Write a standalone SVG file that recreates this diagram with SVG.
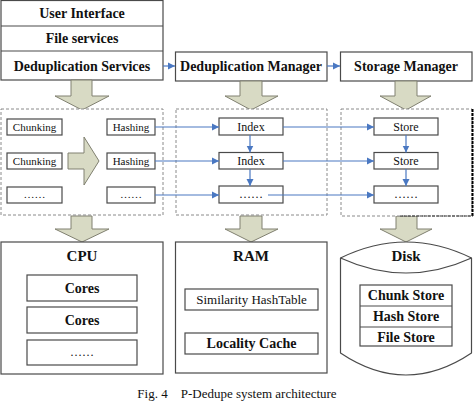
<svg xmlns="http://www.w3.org/2000/svg" width="474" height="402" viewBox="0 0 474 402">
<defs>
<style>
.box{fill:#fff;stroke:#4a4a4a;stroke-width:1.2}
.dash{fill:#fff;stroke:#8a8a8a;stroke-width:1;stroke-dasharray:3 2}
.blk{fill:#d8dac4;stroke:#808070;stroke-width:1}
.t{font-family:'Liberation Serif','Times New Roman','DejaVu Serif',serif;text-anchor:middle;fill:#111}
.b{font-weight:bold}
.con{stroke:#4a78c2;stroke-width:1.2;fill:none;marker-end:url(#ah)}
</style>
<marker id="ah" markerUnits="userSpaceOnUse" markerWidth="8" markerHeight="8" refX="7" refY="4" orient="auto">
<path d="M0,0.5 L7,4 L0,7.5 Z" fill="#4a78c2"/>
</marker>
</defs>
<rect width="474" height="402" fill="#fff"/>

<g id="services">
<rect class="box" x="1" y="0.5" width="162" height="79.5"/>
<line x1="1" y1="26" x2="163" y2="26" stroke="#4a4a4a" stroke-width="1.2"/>
<line x1="1" y1="51" x2="163" y2="51" stroke="#4a4a4a" stroke-width="1.2"/>
<text class="t b" x="82" y="18" font-size="14">User Interface</text>
<text class="t b" x="82" y="43" font-size="14">File services</text>
<text class="t b" x="82" y="71" font-size="14">Deduplication Services</text>
</g>
<g id="dedup-manager">
<rect class="box" x="175.5" y="52" width="151.5" height="29"/>
<text class="t b" x="251" y="71" font-size="14">Deduplication Manager</text>
</g>
<g id="storage-manager">
<rect class="box" x="340.5" y="52" width="131.5" height="29"/>
<text class="t b" x="406" y="71" font-size="14">Storage Manager</text>
</g>

<g id="block-arrows">
<polygon class="blk" points="71,80 92,80 92,96 109,96 82,110 55,96 71,96"/>
<polygon class="blk" points="240,81 262,81 262,96 278,96 251,110 225,96 240,96"/>
<polygon class="blk" points="395,81 417,81 417,96 431,96 406,110 380,96 395,96"/>
<polygon class="blk" points="71,216 92,216 92,229 109,229 82,242 55,229 71,229"/>
<polygon class="blk" points="240,216 262,216 262,229 278,229 251,242 225,229 240,229"/>
<polygon class="blk" points="396,216 417,216 417,229 432,229 406,242 380,229 396,229"/>
</g>

<g id="chunk-hash-panel">
<rect class="dash" x="1" y="109" width="162" height="106"/>
<rect class="box" x="7" y="119" width="55" height="16"/>
<text class="t" x="34.5" y="131" font-size="11">Chunking</text>
<rect class="box" x="7" y="153" width="55" height="16"/>
<text class="t" x="34.5" y="165" font-size="11">Chunking</text>
<rect class="box" x="7" y="187" width="55" height="16"/>
<text class="t" x="34.5" y="198" font-size="11">……</text>
<polygon class="blk" points="68,153 84,153 84,137 99,161 84,185 84,169 68,169"/>
<rect class="box" x="107" y="119" width="48" height="16"/>
<text class="t" x="131" y="131" font-size="11">Hashing</text>
<rect class="box" x="107" y="153" width="48" height="16"/>
<text class="t" x="131" y="165" font-size="11">Hashing</text>
<rect class="box" x="107" y="187" width="48" height="16"/>
<text class="t" x="131" y="198" font-size="11">……</text>
</g>

<g id="index-panel">
<rect class="dash" x="176" y="109" width="151" height="106"/>
<rect class="box" x="219" y="118" width="64" height="17"/>
<text class="t" x="251" y="131" font-size="12">Index</text>
<rect class="box" x="219" y="152.5" width="64" height="16.5"/>
<text class="t" x="251" y="165" font-size="12">Index</text>
<rect class="box" x="219" y="186" width="64" height="17"/>
<text class="t" x="251" y="198" font-size="12">……</text>
</g>

<g id="store-panel">
<rect class="dash" x="341" y="109" width="131" height="107"/>
<line x1="472.5" y1="109" x2="472.5" y2="216" stroke="#000" stroke-width="2" stroke-dasharray="3 1"/>
<line x1="400" y1="216" x2="473" y2="216" stroke="#333" stroke-width="1.2" stroke-dasharray="3 1"/>
<rect class="box" x="374" y="118" width="64" height="17"/>
<text class="t" x="406" y="131" font-size="12">Store</text>
<rect class="box" x="374" y="152.5" width="64" height="16.5"/>
<text class="t" x="406" y="165" font-size="12">Store</text>
<rect class="box" x="374" y="186" width="64" height="17"/>
<text class="t" x="406" y="198" font-size="12">……</text>
</g>

<g id="cpu">
<rect class="box" x="1" y="242" width="162" height="132"/>
<text class="t b" x="82" y="261" font-size="15">CPU</text>
<rect class="box" x="27" y="275" width="110" height="26"/>
<text class="t b" x="82" y="293" font-size="14">Cores</text>
<rect class="box" x="27" y="307" width="110" height="26"/>
<text class="t b" x="82" y="325" font-size="14">Cores</text>
<rect class="box" x="27" y="340" width="110" height="25"/>
<text class="t" x="82" y="356" font-size="12">……</text>
</g>

<g id="ram">
<rect class="box" x="175.5" y="242" width="151.5" height="131"/>
<text class="t b" x="251" y="261" font-size="15">RAM</text>
<rect class="box" x="185" y="289" width="133" height="21"/>
<text class="t" x="251.5" y="304" font-size="13">Similarity HashTable</text>
<rect class="box" x="185" y="333" width="133" height="21"/>
<text class="t b" x="251.5" y="348" font-size="14">Locality Cache</text>
</g>

<g id="disk">
<path d="M340.5,258 L340.5,353 Q406,397 471.5,353 L471.5,258 Q406,226 340.5,258 Z" fill="#fff" stroke="#4a4a4a" stroke-width="1.2"/>
<path d="M340.5,258 Q406,288 471.5,258" fill="none" stroke="#4a4a4a" stroke-width="1.2"/>
<text class="t b" x="406" y="261" font-size="15">Disk</text>
<rect class="box" x="360" y="285" width="92" height="61"/>
<line x1="360" y1="306" x2="452" y2="306" stroke="#4a4a4a" stroke-width="1.2"/>
<line x1="360" y1="327" x2="452" y2="327" stroke="#4a4a4a" stroke-width="1.2"/>
<text class="t b" x="406" y="300" font-size="14">Chunk Store</text>
<text class="t b" x="406" y="321" font-size="14">Hash Store</text>
<text class="t b" x="406" y="342" font-size="14">File Store</text>
</g>

<g id="connectors">
<line class="con" x1="163" y1="66" x2="175" y2="66"/>
<line class="con" x1="327" y1="66" x2="340" y2="66"/>
<line class="con" x1="155" y1="127" x2="219" y2="127"/>
<line class="con" x1="155" y1="161" x2="219" y2="161"/>
<line class="con" x1="155" y1="195" x2="219" y2="195"/>
<line class="con" x1="283" y1="127" x2="374" y2="127"/>
<line class="con" x1="283" y1="161" x2="374" y2="161"/>
<line class="con" x1="268" y1="195" x2="374" y2="195"/>
<line class="con" x1="250" y1="135" x2="250" y2="152.5"/>
<line class="con" x1="250" y1="169" x2="250" y2="186"/>
<line class="con" x1="406" y1="135" x2="406" y2="152.5"/>
<line class="con" x1="406" y1="169" x2="406" y2="186"/>
</g>

<text class="t" x="237" y="398" font-size="13" xml:space="preserve">Fig. 4    P-Dedupe system architecture</text>
</svg>
